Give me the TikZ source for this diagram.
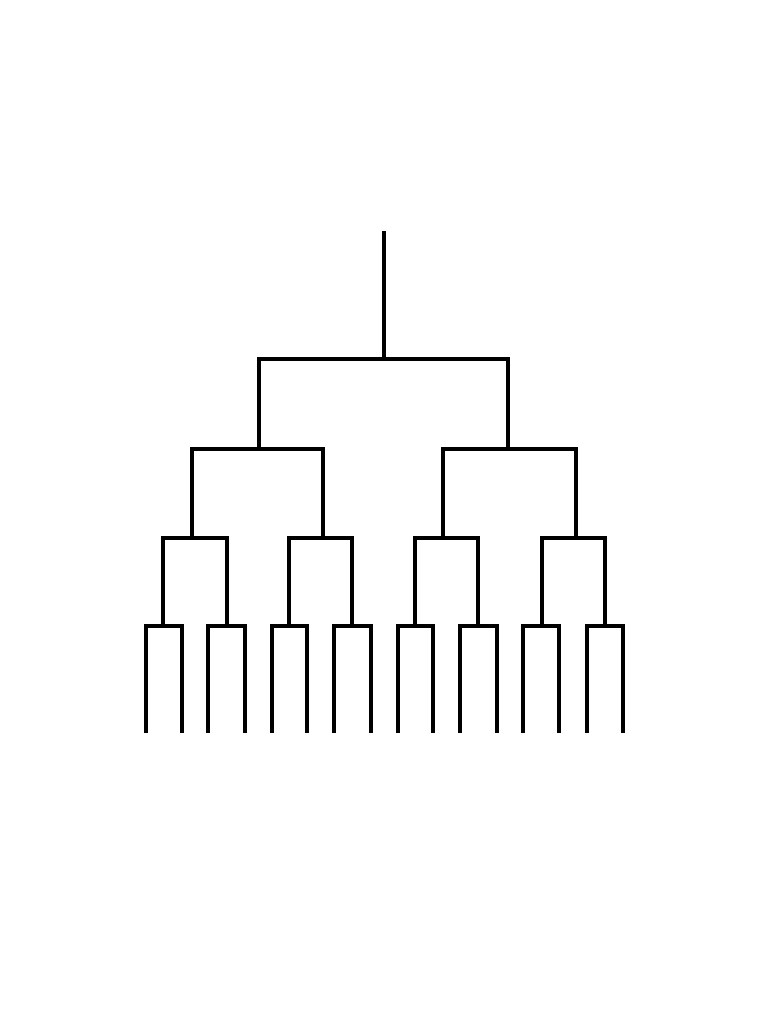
\documentclass[tikz,border=0pt]{standalone}
\usepackage{tikz}

\begin{document}
\begin{tikzpicture}[x=0.025cm, y=-0.025cm, br/.style={line width=2.5pt, line join=miter}]
            \useasboundingbox (0,0) rectangle (768,1024);
            % nodes
            \coordinate (top) at (384,231);
            \coordinate (r) at (384,359);

            \coordinate (1a) at (259,449);
            \coordinate (1b) at (508,449);

            \coordinate (2a) at (192,538);
            \coordinate (2b) at (323,538);
            \coordinate (2c) at (443,538);
            \coordinate (2d) at (576,538);

            \coordinate (3a) at (163,626);
            \coordinate (3b) at (227,626);
            \coordinate (3c) at (289,626);
            \coordinate (3d) at (352,626);
            \coordinate (3e) at (415,626);
            \coordinate (3f) at (478,626);
            \coordinate (3g) at (542,626);
            \coordinate (3h) at (605,626);

            \coordinate (4a) at (146,733);
            \coordinate (4b) at (182,733);
            \coordinate (4c) at (208,733);
            \coordinate (4d) at (245,733);
            \coordinate (4e) at (272,733);
            \coordinate (4f) at (307,733);
            \coordinate (4g) at (334,733);
            \coordinate (4h) at (371,733);
            \coordinate (4i) at (398,733);
            \coordinate (4j) at (433,733);
            \coordinate (4k) at (460,733);
            \coordinate (4l) at (497,733);
            \coordinate (4m) at (523,733);
            \coordinate (4n) at (559,733);
            \coordinate (4o) at (587,733);
            \coordinate (4p) at (623,733);
            % edges
            \draw [br] (top) -- (r);
            \draw [br] (1a) |- (r) -| (1b);

            \draw [br] (2a) |- (1a) -| (2b);
            \draw [br] (2c) |- (1b) -| (2d);

            \draw [br] (3a) |- (2a) -| (3b);
            \draw [br] (3c) |- (2b) -| (3d);
            \draw [br] (3e) |- (2c) -| (3f);
            \draw [br] (3g) |- (2d) -| (3h);

            \draw [br] (4a) |- (3a) -| (4b);
            \draw [br] (4c) |- (3b) -| (4d);
            \draw [br] (4e) |- (3c) -| (4f);
            \draw [br] (4g) |- (3d) -| (4h);
            \draw [br] (4i) |- (3e) -| (4j);
            \draw [br] (4k) |- (3f) -| (4l);
            \draw [br] (4m) |- (3g) -| (4n);
            \draw [br] (4o) |- (3h) -| (4p);
        \end{tikzpicture}
\end{document}
